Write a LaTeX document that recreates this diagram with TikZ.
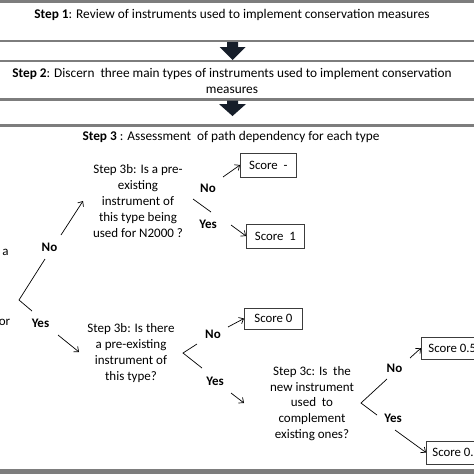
\documentclass[tikz,border=0pt]{standalone}
\usepackage{fontspec}
\setmainfont{Carlito}
\usetikzlibrary{arrows.meta}
\definecolor{bandgray}{RGB}{125,125,125}
\definecolor{arrowdark}{RGB}{22,30,42}
\definecolor{boxline}{RGB}{60,60,60}
\begin{document}
\begin{tikzpicture}[x=1pt,y=-1pt,
  band/.style={draw=bandgray,line width=2.3pt},
  bigarrow/.style={fill=arrowdark,draw=none},
  steptxt/.style={font=\fontsize{13.3}{16}\selectfont,inner sep=0pt,align=center},
  qtxt/.style={font=\fontsize{13}{15.8}\selectfont,inner sep=0pt,align=center},
  lab/.style={font=\bfseries\fontsize{13}{15}\selectfont,inner sep=0pt},
  scorebox/.style={draw=boxline,line width=0.8pt,font=\fontsize{12.8}{14}\selectfont,inner xsep=6pt,inner ysep=0pt,anchor=west},
  conn/.style={line width=0.7pt},
  arr/.style={conn,-{Straight Barb[length=4pt,width=7pt]}}]
\useasboundingbox (0,0) rectangle (474,474);
\clip (0,0) rectangle (474,474);
\fill[white] (0,0) rectangle (474,474);
% horizontal bands
\draw[band,line width=3pt] (0,1.5) -- (474,1.5);
\draw[band] (0,41) -- (474,41);
\draw[band] (0,61) -- (474,61);
\draw[band] (0,99.5) -- (474,99.5);
\draw[band] (0,125.5) -- (474,125.5);
\fill[bandgray] (0,469) rectangle (474,474);
% big arrows
\fill[bigarrow] (227,42)--(238,42)--(238,47)--(245.5,47)--(232.5,60)--(219.5,47)--(227,47)--cycle;
\fill[bigarrow] (227,100.5)--(238,100.5)--(238,104)--(246,104)--(232.5,116)--(219,104)--(227,104)--cycle;
% step texts
\node[steptxt] (st1) at (232,15) {\textbf{Step 1}: Review of instruments used to implement conservation measures};
\node[steptxt] (st2) at (232,80.5) {\textbf{Step 2}: Discern\ \ three main types of instruments used to implement conservation\\measures};
\node[steptxt] (st3) at (231,137) {\textbf{Step 3} : Assessment\ \ of path dependency for each type};
% cut-off left text
\node[qtxt] (lefta) at (5.5,252) {a};
\node[qtxt] (leftor) at (4.5,322) {or};
% questions
\node[qtxt] (q1) at (138,201) {Step 3b: Is a pre-\\existing\\instrument of\\this type being\\used for N2000 ?};
\node[qtxt] (q2) at (131,353) {Step 3b: Is there\\a pre-existing\\instrument of\\this type?};
\node[qtxt] (q3) at (312,403.5) {Step 3c: Is\ \ the\\new instrument\\used\ \ to\\complement\\existing ones?};
% scores
\node[scorebox,minimum width=56pt,minimum height=24pt] (sm) at (240,165) {Score\ \ -};
\node[scorebox,minimum width=58pt,minimum height=24pt] (s1) at (246,236) {Score\ \ 1};
\node[scorebox,minimum width=58pt,minimum height=21pt] (s0) at (244,318.5) {Score 0};
\node[scorebox,minimum height=22pt,inner xsep=7pt] (s05) at (421,348) {Score 0.5};
\node[scorebox,minimum height=23pt,inner xsep=6pt] (s075) at (426,452.5) {Score 0.75};
% labels
\node[lab] (no0) at (49.5,247) {No};
\node[lab] (yes0) at (40.5,323) {Yes};
\node[lab] (no1) at (208,188) {No};
\node[lab] (yes1) at (208,224) {Yes};
\node[lab] (no2) at (213,334) {No};
\node[lab] (yes2) at (215,381) {Yes};
\node[lab] (no3) at (394.5,368) {No};
\node[lab] (yes3) at (393,418) {Yes};
% coordinates
\coordinate (a0s) at (61,235);
\coordinate (a0e) at (83,201);
\coordinate (v0top) at (45,259);
\coordinate (v0) at (19,300);
\coordinate (v0bot) at (32,311);
\coordinate (b0s) at (58,335);
\coordinate (b0e) at (79,352);
\coordinate (y1a) at (193,199);
\coordinate (y1b) at (211,212);
\coordinate (n1s) at (223,177);
\coordinate (y1s) at (231,225);
\coordinate (v2top) at (197,344);
\coordinate (v2) at (183,353);
\coordinate (v2bot) at (202,368);
\coordinate (n2s) at (228,327);
\coordinate (y2s) at (231,393);
\coordinate (y2e) at (244,403);
\coordinate (v3top) at (387,379);
\coordinate (v3) at (361,403);
\coordinate (v3bot) at (377,415);
\coordinate (n3s) at (410,358);
\coordinate (y3s) at (395,430);
% connectors
\draw[arr] (a0s) -- (a0e);
\draw[conn] (v0top) -- (v0) -- (v0bot);
\draw[arr] (b0s) -- (b0e);
\draw[conn] (y1a) -- (y1b);
\draw[arr] (n1s) -- (sm.west);
\draw[arr] (y1s) -- (s1.west);
\draw[conn] (v2top) -- (v2) -- (v2bot);
\draw[arr] (n2s) -- (s0.west);
\draw[arr] (y2s) -- (y2e);
\draw[conn] (v3top) -- (v3) -- (v3bot);
\draw[arr] (n3s) -- (s05.west);
\draw[arr] (y3s) -- (s075.west);
\end{tikzpicture}
\end{document}
